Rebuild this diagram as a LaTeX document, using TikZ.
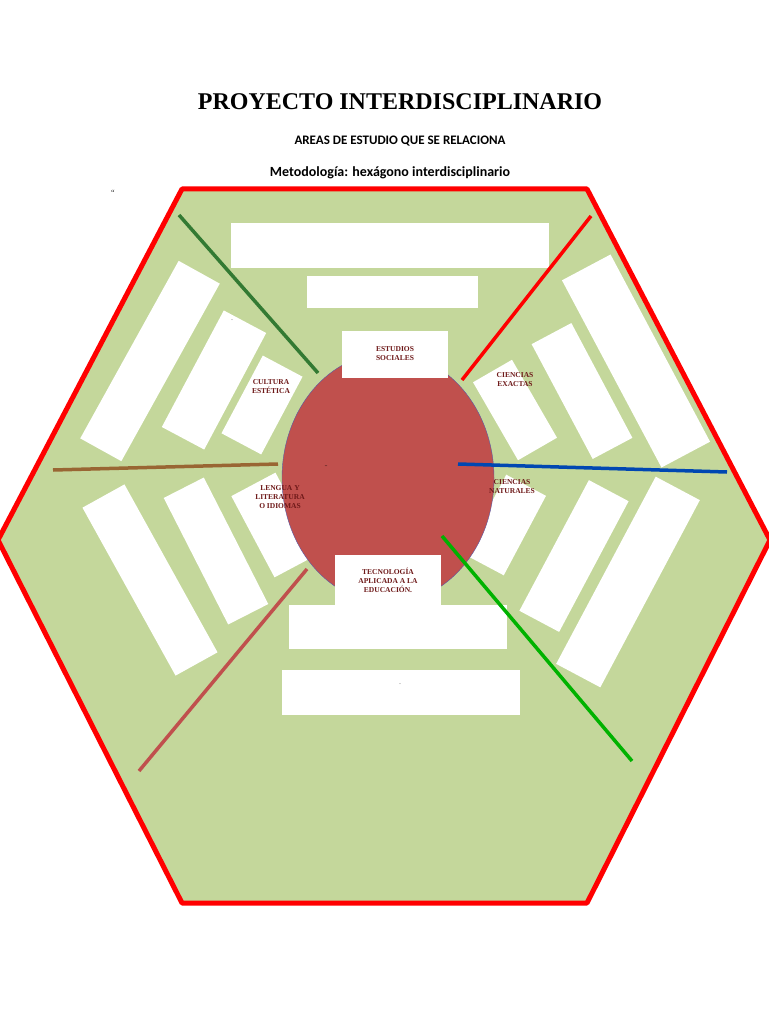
\documentclass[tikz,border=0pt]{standalone}
\usepackage{fontspec}
\setmainfont{Liberation Serif}
\newfontfamily\calib{Carlito}
\usetikzlibrary{shapes.geometric}
\definecolor{hexgreen}{RGB}{196,215,155}
\definecolor{blobred}{RGB}{192,80,77}
\definecolor{labelred}{RGB}{110,25,25}
\tikzset{
  card/.style={fill=white, inner sep=0pt, minimum height=#1},
  card/.default=46pt,
  arealabel/.style={font=\bfseries\fontsize{7.5}{9}\selectfont, text=labelred, align=center},
  ray/.style={line width=3.5pt}
}
\begin{document}
\begin{tikzpicture}[x=1pt,y=-1pt]
\useasboundingbox (0,0) rectangle (768,1024);
\fill[white] (0,0) rectangle (768,1024);
% titles
\node[font=\bfseries\fontsize{24}{28}\selectfont] (title) at (400,102) {PROYECTO INTERDISCIPLINARIO};
\node[font=\calib\bfseries\fontsize{13}{15}\selectfont] (areas) at (400,141) {AREAS DE ESTUDIO QUE SE RELACIONA};
\node[font=\calib\bfseries\fontsize{14}{16}\selectfont] (metodo) at (390,173) {Metodología: hexágono interdisciplinario};
\node[font=\fontsize{8}{8}\selectfont] (mark) at (113,193) {“};
% hexagon
\draw[red, line width=5pt, fill=hexgreen, line join=round]
  (182,189) -- (587,189) -- (770,540) -- (587,903) -- (182,903) -- (-2,540) -- cycle;
% horizontal cards
\fill[white] (231,223) rectangle (549,268);
\fill[white] (307,276) rectangle (478,308);
\fill[white] (289,605) rectangle (507,649);
\fill[white] (282,670) rectangle (520,715);
% slanted cards, left
\node[card=47pt, minimum width=203pt, rotate=61] (lt1) at (150,361) {};
\node[card=48pt, minimum width=132pt, rotate=62] (lt2) at (214,380) {};
\node[card=45pt, minimum width=88pt, rotate=62] (lt3) at (262,405) {};
\node[card=48pt, minimum width=192pt, rotate=-61] (lb1) at (150,580) {};
\node[card=45pt, minimum width=142pt, rotate=-63] (lb2) at (216,551) {};
\node[card=50pt, minimum width=92pt, rotate=-62] (lb3) at (275,525) {};
% slanted cards, right
\node[card=55pt, minimum width=212pt, rotate=-62] (rt1) at (636,361) {};
\node[card=45pt, minimum width=130pt, rotate=-62] (rt2) at (582,391) {};
\node[card=45pt, minimum width=90pt, rotate=-60] (rt3) at (515,410) {};
\node[card=50pt, minimum width=212pt, rotate=62] (rb1) at (628,582) {};
\node[card=45pt, minimum width=148pt, rotate=62] (rb2) at (574,556) {};
\node[card=45pt, minimum width=90pt, rotate=62] (rb3) at (505,525) {};
% centre
\node[ellipse, fill=blobred, draw=gray!70!blue, minimum width=212pt, minimum height=250pt] (core) at (388,478) {};
\node[fill=white, minimum width=106pt, minimum height=47pt, arealabel] (sociales) at (395,354) {ESTUDIOS\\SOCIALES};
\node[fill=white, minimum width=106pt, minimum height=51pt, arealabel] (tecno) at (388,580) {TECNOLOGÍA\\APLICADA A LA\\EDUCACIÓN.};
\node[arealabel] (cultura) at (271,387) {CULTURA\\ESTÉTICA};
\node[arealabel] (lengua) at (280,497) {LENGUA Y\\LITERATURA\\O IDIOMAS};
\node[arealabel] (exactas) at (515,380) {CIENCIAS\\EXACTAS};
\node[arealabel] (naturales) at (512,487) {CIENCIAS\\NATURALES};
\node[font=\fontsize{6}{6}\selectfont] (dot1) at (232,320) {.};
\node[font=\fontsize{6}{6}\selectfont] (dot2) at (326,466) {..};
\node[font=\fontsize{6}{6}\selectfont] (dot3) at (400,684) {.};
% rays
\draw[ray, green!35!black!80] (179,215) -- (318,373);
\draw[ray, red] (591,216) -- (462,380);
\draw[ray, brown!80!black] (53,470) -- (278,464);
\draw[ray, blue!60!cyan!70!black] (458,464) -- (727,472);
\draw[ray, blobred] (139,771) -- (307,569);
\draw[ray, green!70!black] (442,536) -- (632,761);
\end{tikzpicture}
\end{document}
